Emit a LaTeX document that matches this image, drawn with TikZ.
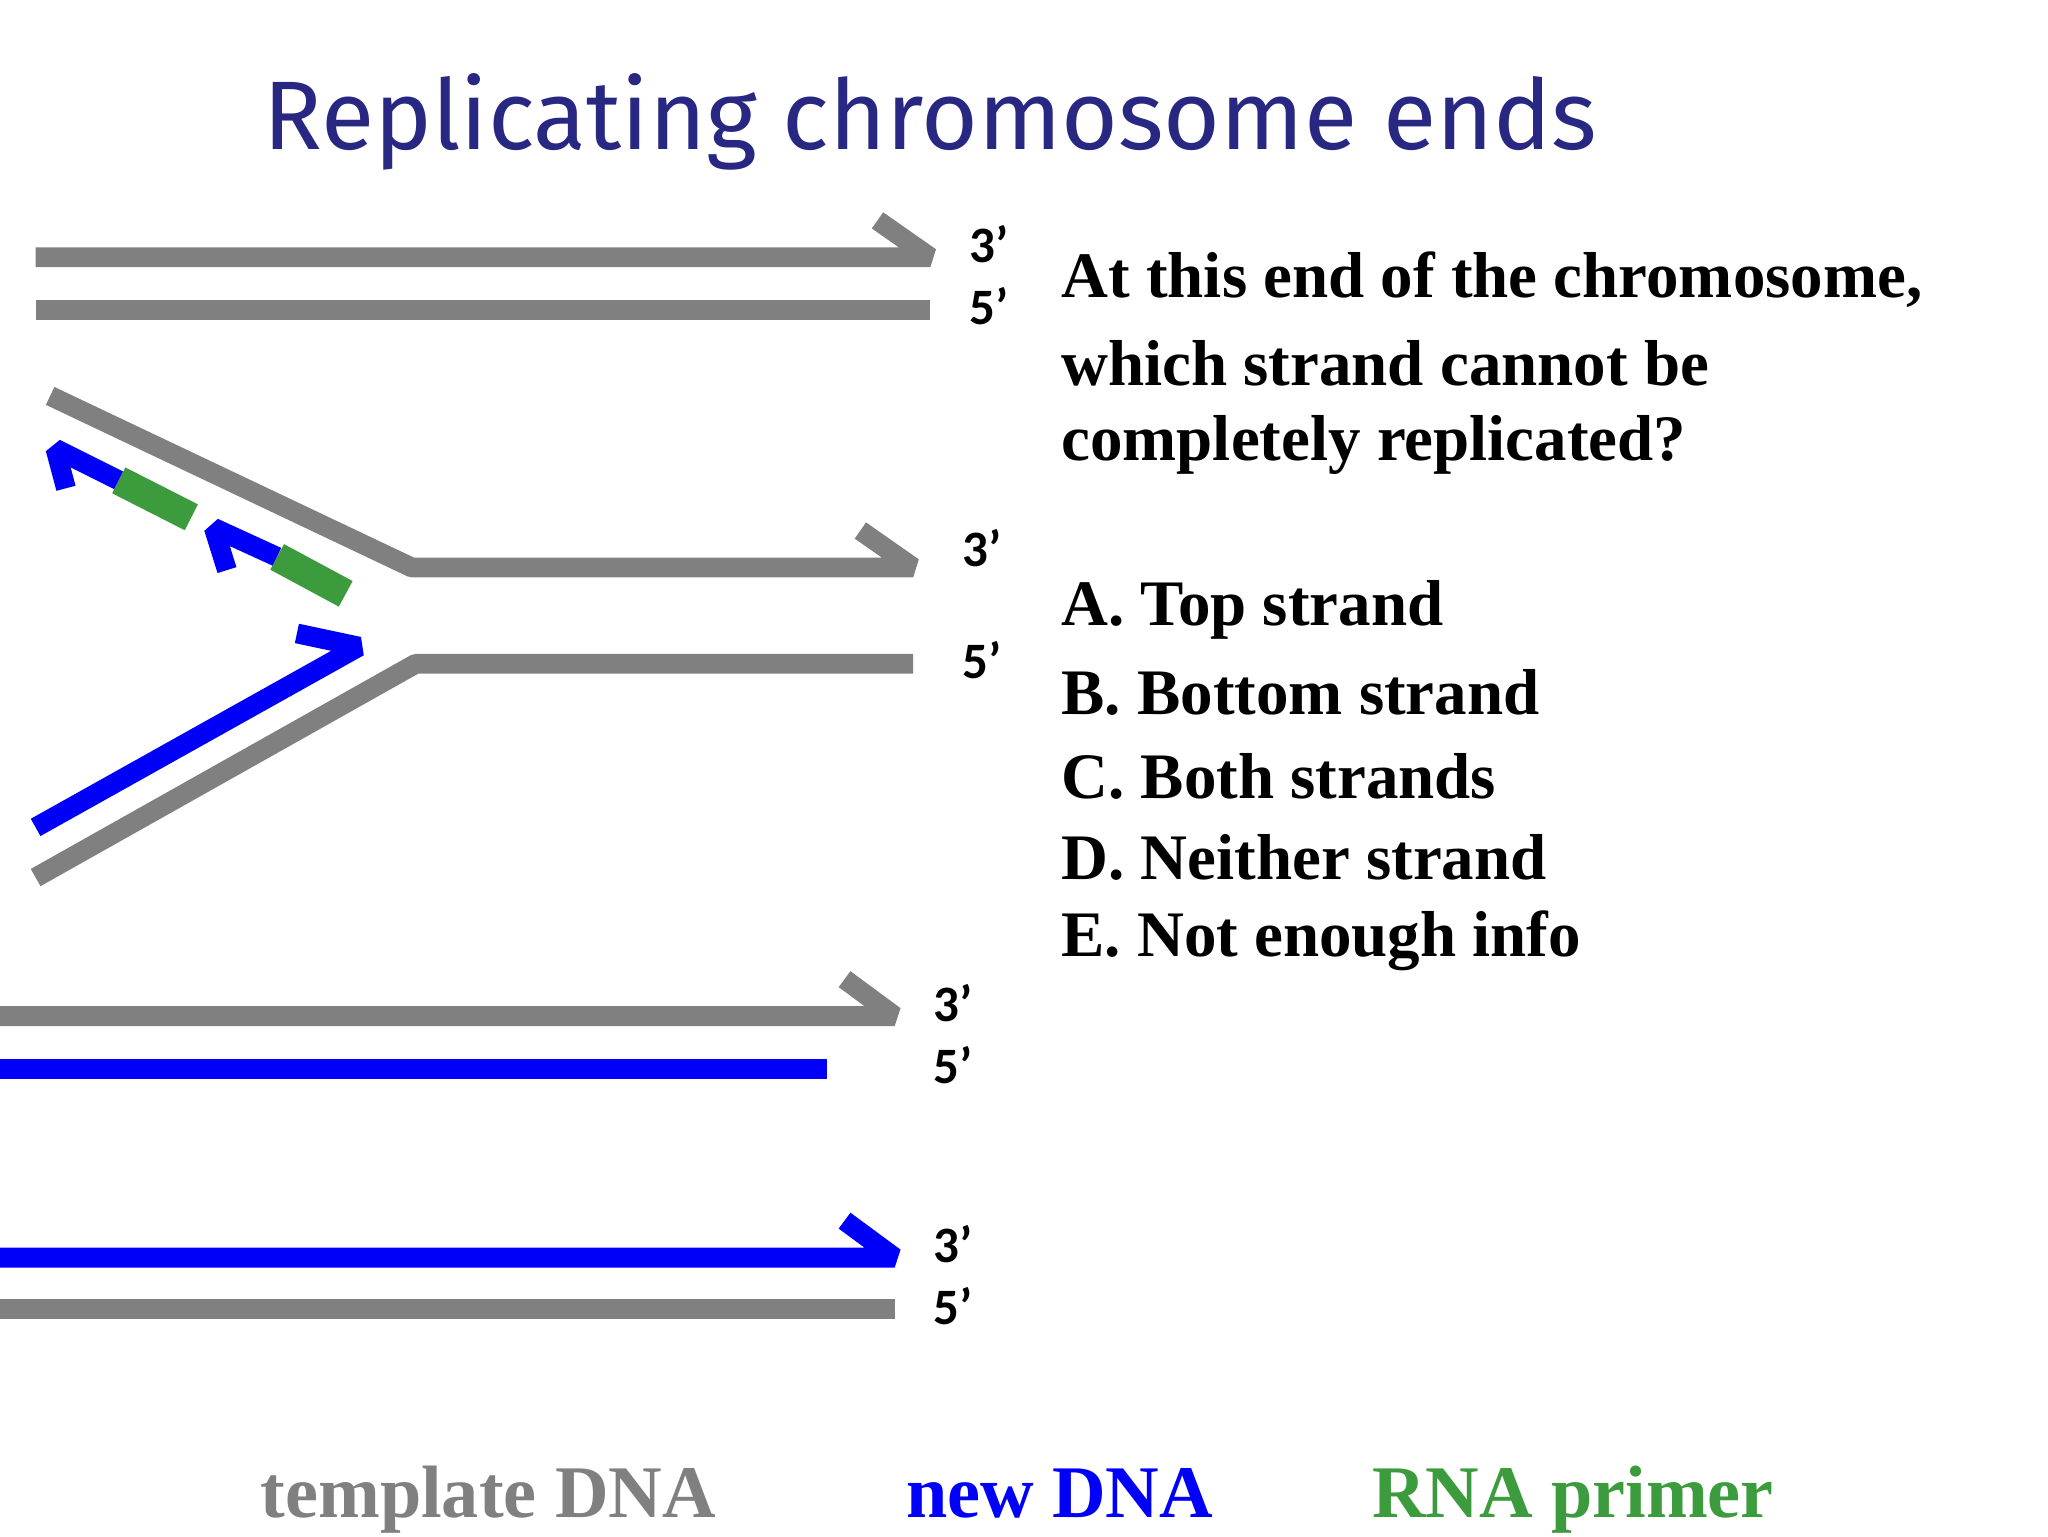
\documentclass[tikz,border=0pt]{standalone}
\usepackage{fontspec}
\setmainfont{Liberation Serif}
\newfontfamily\lblfont{Carlito}
\newfontfamily\titlefont{Fira Sans}
\definecolor{tgray}{RGB}{128,128,128}
\definecolor{nblue}{RGB}{0,0,250}
\definecolor{pgreen}{RGB}{60,155,60}
\definecolor{ttl}{RGB}{40,40,130}
\begin{document}
\begin{tikzpicture}[x=0.1mm,y=-0.1mm,
  tmpl/.style={draw=tgray,line width=1.5mm,line join=bevel},
  newd/.style={draw=nblue,line width=1.5mm,line join=bevel},
  prim/.style={draw=pgreen,line width=2.2mm},
  lbl/.style={font=\lblfont\bfseries\fontsize{11}{13}\selectfont,anchor=west},
  qtext/.style={font=\bfseries\fontsize{14}{18}\selectfont,anchor=west},
  leg/.style={font=\bfseries\fontsize{16}{20}\selectfont,anchor=base}]
\useasboundingbox (0,0) rectangle (1552,1164);
\node[font=\titlefont\fontsize{21}{26}\selectfont,text=ttl] (title) at (705,92) {Replicating chromosome ends};
% end 1
\draw[tmpl] (27,195) -- (705,195) -- (665,167);
\draw[tmpl] (27,235) -- (705,235);
\node[lbl] (a3) at (722,185) {3’};
\node[lbl] (a5) at (722,232) {5’};
% fork
\draw[tmpl] (38,300) -- (312,430) -- (692,430) -- (652,402);
\draw[tmpl] (27,665) -- (315,503) -- (692,503);
\node[lbl] (b3) at (717,415) {3’};
\node[lbl] (b5) at (717,500) {5’};
\draw[newd] (50,370) -- (42,340) -- (90,364);
\draw[prim] (90,364) -- (145,392);
\draw[newd] (172,432) -- (162,400) -- (210,422);
\draw[prim] (210,422) -- (262,450);
\draw[newd] (27,627) -- (272,490) -- (225,480);
% end 3
\draw[tmpl] (0,770) -- (678,770) -- (640,742);
\draw[newd] (0,810) -- (627,810);
\node[lbl] (c3) at (695,760) {3’};
\node[lbl] (c5) at (695,807) {5’};
% end 4
\draw[newd] (0,953) -- (678,953) -- (640,925);
\draw[tmpl] (0,992) -- (678,992);
\node[lbl] (d3) at (695,943) {3’};
\node[lbl] (d5) at (695,990) {5’};
% question
\node[qtext] (q1) at (792,212) {At this end of the chromosome,};
\node[qtext] (q2) at (792,275) {which strand cannot be};
\node[qtext] (q3) at (792,337) {completely replicated?};
\node[qtext] (oA) at (792,462) {A. Top strand};
\node[qtext] (oB) at (792,525) {B. Bottom strand};
\node[qtext] (oC) at (792,588) {C. Both strands};
\node[qtext] (oD) at (792,650) {D. Neither strand};
\node[qtext] (oE) at (792,713) {E. Not enough info};
% legend
\node[leg,text=tgray] (l1) at (370,1150) {template DNA};
\node[leg,text=nblue] (l2) at (803,1150) {new DNA};
\node[leg,text=pgreen] (l3) at (1192,1150) {RNA primer};
\end{tikzpicture}
\end{document}
